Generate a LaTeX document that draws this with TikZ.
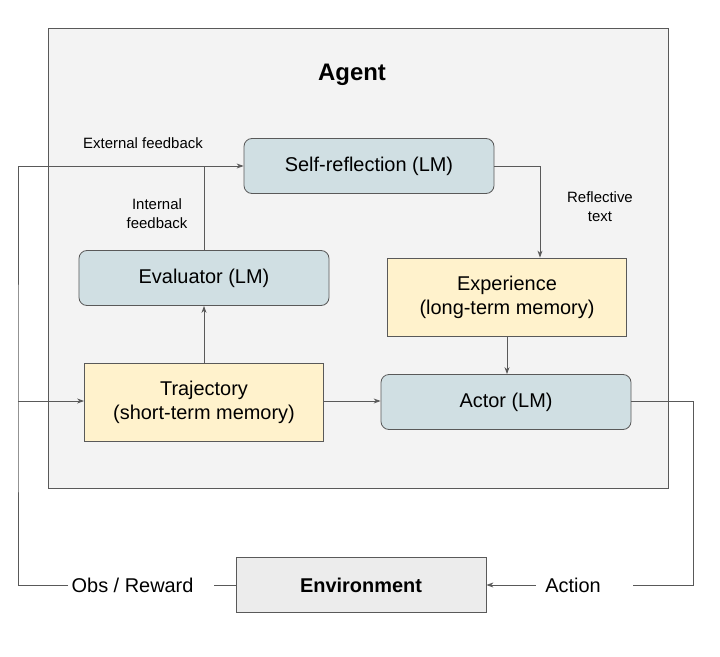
\documentclass[tikz,border=0pt]{standalone}
\usepackage{fontspec}
\setmainfont{Liberation Sans}
\usetikzlibrary{arrows.meta}
\definecolor{lmblue}{HTML}{D0DFE3}
\definecolor{memy}{HTML}{FFF2CC}
\definecolor{frame}{HTML}{F3F3F3}
\definecolor{ln}{HTML}{595959}
\begin{document}
\begin{tikzpicture}[x=1bp,y=-1bp,
  box/.style={draw=ln,line width=0.8bp,minimum height=55bp,minimum width=250bp,align=center,inner sep=0pt,font=\fontsize{20}{24}\selectfont},
  lm/.style={box,fill=lmblue,rounded corners=8bp},
  mem/.style={box,fill=memy,minimum height=78bp,minimum width=239bp},
  lab/.style={font=\fontsize{15}{19}\selectfont,align=center},
  con/.style={draw=ln,line width=0.8bp},
  arr/.style={con,-{Stealth[length=7bp,width=5bp]}}]
\useasboundingbox (0,0) rectangle (720,657);
\node[draw=ln,fill=frame,minimum width=620bp,minimum height=460bp,inner sep=0pt] (agent) at (358,258) {};
\node[font=\bfseries\fontsize{24}{28}\selectfont] (title) at (352,75) {Agent};
\node[lm] (self) at (369,166) {Self-reflection (LM)};
\node[lm] (eval) at (204,278) {Evaluator (LM)};
\node[mem] (exp) at (507,297) {Experience\\(long-term memory)};
\node[mem] (traj) at (204,402) {Trajectory\\(short-term memory)};
\node[lm] (actor) at (506,402) {Actor (LM)};
\node[box,fill=gray!15,font=\bfseries\fontsize{20}{24}\selectfont] (env) at (361,585) {Environment};
\node[lab] (ext) at (143,143) {External feedback};
\node[lab] (int) at (157,214) {Internal\\feedback};
\node[lab] (refl) at (600,207) {Reflective\\text};
\node[font=\fontsize{20}{24}\selectfont,anchor=east] (obs) at (197,585) {Obs / Reward};
\node[font=\fontsize{20}{24}\selectfont] (act) at (573,585) {Action};
\coordinate (L1) at (18,585);
\coordinate (L2) at (18,401);
\coordinate (L3) at (18,166);
\coordinate (R1) at (693,401);
\coordinate (R2) at (693,585);
\coordinate (J) at (204,166);
\coordinate (S1) at (540,166);
\draw[con] (env.west) -- ++(-22,0);
\draw[con] (obs.west) -- (L1) -- (L2) -- (L3);
\draw[arr] (L3) -- (self.west);
\draw[arr] (L2) -- (traj.west |- L2);
\draw[con] (eval.north) -- (J);
\draw[arr] (traj.north) -- (eval.south);
\draw[arr] (traj.east |- L2) -- (actor.west |- L2);
\draw[arr] (exp.south) -- (exp.south |- actor.north);
\draw[con] (self.east) -- (S1);
\draw[arr] (S1) -- (S1 |- exp.north);
\draw[con] (actor.east |- R1) -- (R1) -- (R2) -- ++(-60,0);
\draw[arr] (act.west) ++(-6,0) -- (env.east);
\end{tikzpicture}
\end{document}
